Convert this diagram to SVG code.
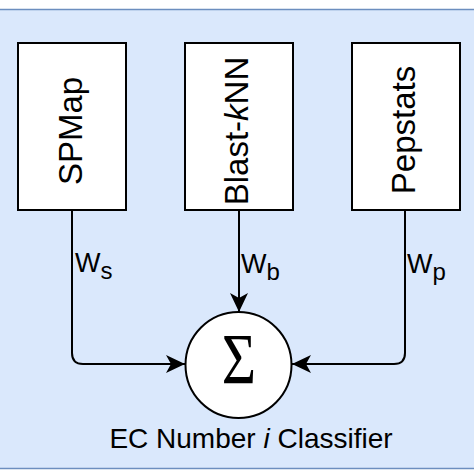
<svg xmlns="http://www.w3.org/2000/svg" width="474" height="474" viewBox="0 0 474 474">
<defs>
<style>
.box{fill:#ffffff;stroke:#000000;stroke-width:2}
.lbl{font-family:"Liberation Sans",Arial,sans-serif;fill:#000000}
.edge{fill:none;stroke:#000000;stroke-width:2}
</style>
<marker id="arr" viewBox="0 0 20 20" refX="19" refY="10" markerWidth="20" markerHeight="20" markerUnits="userSpaceOnUse" orient="auto">
<path d="M0,1 L19,10 L0,19 L5,10 Z" fill="#000000"/>
</marker>
</defs>
<rect x="-2" y="9.5" width="478" height="459" fill="#dae8fc" stroke="#6c8ebf" stroke-width="1.5"/>
<g id="connectors">
<path class="edge" d="M72,210 V353 Q72,364 83,364 H185" marker-end="url(#arr)"/>
<path class="edge" d="M239,210 V312" marker-end="url(#arr)"/>
<path class="edge" d="M405,210 V353 Q405,364 394,364 H292" marker-end="url(#arr)"/>
</g>
<g id="spmap">
<rect class="box" x="18" y="43" width="108" height="167"/>
<text class="lbl" font-size="33" text-anchor="middle" transform="translate(82,131) rotate(-90)">SPMap</text>
</g>
<g id="blastknn">
<rect class="box" x="185" y="43" width="108" height="167"/>
<text class="lbl" font-size="33" text-anchor="middle" transform="translate(248,131) rotate(-90)">Blast-<tspan font-style="italic">k</tspan>NN</text>
</g>
<g id="pepstats">
<rect class="box" x="352" y="43" width="108" height="167"/>
<text class="lbl" font-size="33" text-anchor="middle" transform="translate(415,130) rotate(-90)">Pepstats</text>
</g>
<g id="sum">
<circle cx="238.5" cy="365" r="53" fill="#ffffff" stroke="#000000" stroke-width="2"/>
<text x="239" y="383" font-family="'Liberation Serif','Times New Roman',serif" font-size="72" text-anchor="middle" transform="translate(239,0) scale(0.82,1) translate(-239,0)">Σ</text>
</g>
<g id="weights">
<text class="lbl" x="75" y="272" font-size="27">W<tspan font-size="24" dy="7">s</tspan></text>
<text class="lbl" x="241" y="273" font-size="27">W<tspan font-size="24" dy="7">b</tspan></text>
<text class="lbl" x="407" y="273" font-size="27">W<tspan font-size="24" dy="7">p</tspan></text>
</g>
<g id="title">
<text class="lbl" x="251" y="448" font-size="28" text-anchor="middle">EC Number <tspan font-style="italic">i</tspan> Classifier</text>
</g>
</svg>
